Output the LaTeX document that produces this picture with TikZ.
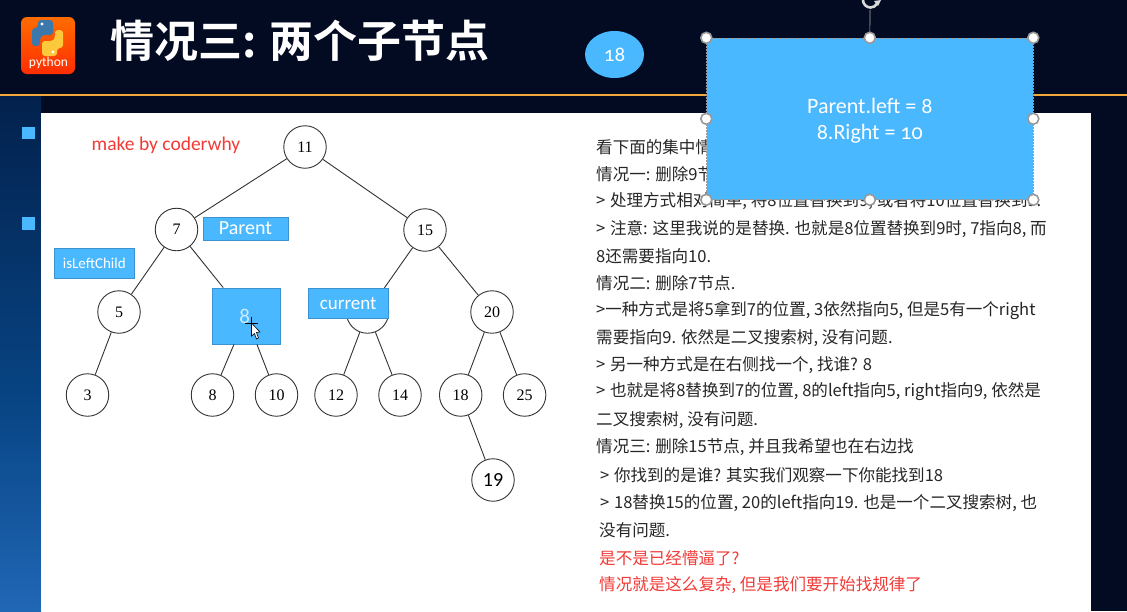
\documentclass[tikz,border=0pt]{standalone}
\usepackage{fontspec}
\setmainfont{Noto Sans CJK SC}
\newfontfamily\titlefont{Noto Sans CJK SC Bold}
\newfontfamily\labelfont[Numbers=OldStyle]{Carlito}
\newfontfamily\plainfont{Carlito}
\newfontfamily\treefont{Liberation Serif}
\usepackage{tikz}
\usetikzlibrary{shapes.geometric}
\definecolor{navy}{HTML}{020B22}
\definecolor{skyblue}{HTML}{4AB8FF}
\definecolor{edgeblue}{HTML}{3D93D0}
\definecolor{redtext}{HTML}{F23A36}
\definecolor{bodytext}{HTML}{262626}
\definecolor{ruleorange}{HTML}{F2A93B}
\definecolor{logoblue}{HTML}{3C78AB}
\definecolor{logoyellow}{HTML}{FCC93C}
\pgfdeclareverticalshading{sidestrip}{100bp}{rgb(0bp)=(0.32,0.62,0.90); rgb(18bp)=(0.16,0.45,0.78); rgb(45bp)=(0.03,0.27,0.52); rgb(75bp)=(0.01,0.13,0.30); rgb(100bp)=(0.01,0.05,0.14)}
\tikzset{tree node/.style={circle, draw=black!80, fill=white, line width=0.9pt, minimum size=42.5pt, inner sep=0pt, font=\treefont\fontsize{16}{16}\selectfont}}
\tikzset{tree edge/.style={draw=black!80, line width=0.9pt}}
\tikzset{tag/.style={fill=skyblue, draw=edgeblue, line width=0.7pt, text=white, inner sep=0pt, font=\labelfont\fontsize{#1}{#1}\selectfont}}
\tikzset{tag/.default=18}
\tikzset{body line/.style={anchor=west, inner sep=0pt, text=bodytext, font=\fontsize{16.55}{16.55}\selectfont}}
\tikzset{handle/.style={circle, draw=black!40, fill=white, line width=1.6pt, minimum size=11pt, inner sep=0pt}}
\newcommand{\snakepath}{(38, 20) -- (53, 20) -- (53, 35) -- (42, 35) -- (40, 38) -- (40, 46) -- (32, 46) -- (32, 28) -- (38, 28) -- cycle}

\begin{document}
\begin{tikzpicture}[x=1pt, y=-1pt]
            \useasboundingbox (0, 0) rectangle (1127, 611);
            % slide background
            \fill[navy] (0, 0) rectangle (1127, 611);
            \shade[shading=sidestrip] (0, 96) rectangle (41, 611);
            \fill[white] (41, 113) rectangle (1090.5, 611);
            \draw[ruleorange, line width=1.2pt] (0, 95) -- (1127, 95);
            \fill[skyblue] (22, 127) rectangle (34.6, 139);
            \fill[skyblue] (22, 217) rectangle (34.6, 230);
            % logo
            \shade[rounded corners=6pt, top color=orange!85!red, bottom color=red!65!orange] (21, 17) rectangle (75, 74);
            \fill[logoblue, rounded corners=3pt] \snakepath;
            \fill[logoyellow, rounded corners=3pt, rotate around={180:(47.5, 38)}] \snakepath;
            \fill[white] (42, 24) circle (1.6);
            \fill[white] (53, 52) circle (1.6);
            \node[text=white, inner sep=0pt, font=\plainfont\fontsize{13.5}{13.5}\selectfont] (logotext) at (48.5, 63) {python};
            \node[anchor=west, inner sep=0pt, text=white, font=\titlefont\fontsize{44}{44}\selectfont] (title) at (110, 41) {情况三: 两个子节点};
            % tree
            \node[tree node] (n11) at (305, 147) {11};
            \node[tree node] (n7) at (176.5, 229.5) {7};
            \node[tree node] (n15) at (425, 230) {15};
            \node[tree node] (n5) at (119, 312) {5};
            \node[tree node] (n13) at (367.5, 312) {};
            \node[tree node] (n20) at (492, 312) {20};
            \node[tree node] (n3) at (87.5, 395) {3};
            \node[tree node] (n8) at (212.5, 395) {8};
            \node[tree node] (n10) at (276.5, 395) {10};
            \node[tree node] (n12) at (336, 395) {12};
            \node[tree node] (n14) at (400, 395) {14};
            \node[tree node] (n18) at (460.7, 395) {18};
            \node[tree node] (n25) at (524.6, 395) {25};
            \node[tree node, font=\plainfont\fontsize{20}{20}\selectfont] (n19) at (493, 480) {19};
            \node[tag=21, minimum width=68pt, minimum height=56pt] (nine) at (246, 316) {};
            \node[inner sep=0pt, text=white!70!skyblue, font=\plainfont\fontsize{21}{21}\selectfont] (ninetext) at (244.6, 316.5) {8};
            \draw[tree edge] (n11) -- (n7);
            \draw[tree edge] (n11) -- (n15);
            \draw[tree edge] (n7) -- (n5);
            \draw[tree edge] (n7) -- (nine);
            \draw[tree edge] (n15) -- (n13);
            \draw[tree edge] (n15) -- (n20);
            \draw[tree edge] (n5) -- (n3);
            \draw[tree edge] (nine) -- (n8);
            \draw[tree edge] (nine) -- (n10);
            \draw[tree edge] (n13) -- (n12);
            \draw[tree edge] (n13) -- (n14);
            \draw[tree edge] (n20) -- (n18);
            \draw[tree edge] (n20) -- (n25);
            \draw[tree edge] (n18) -- (n19);
            % mouse pointer
            \draw[black, line width=0.8pt] (245, 323) -- (258, 323) (251.5, 316.5) -- (251.5, 329.5);
            \draw[black, fill=white, line width=0.6pt] (251.5, 323) -- (251.5, 336) -- (254.5, 333.5) -- (256.5, 339) -- (258.5, 338) -- (256.5, 332.5) -- (260, 332) -- cycle;
            % labels on the tree
            \node[text=redtext, inner sep=0pt, font=\labelfont\fontsize{19.5}{19.5}\selectfont] (credit) at (166, 145) {make by coderwhy};
            \node[tag=20, minimum width=85pt, minimum height=23pt] (parent) at (245.5, 228.5) {Parent};
            \node[tag=15, minimum width=80.5pt, minimum height=30pt] (leftchild) at (94.3, 263) {isLeftChild};
            \node[tag=19, minimum width=80.5pt, minimum height=30.7pt] (current) at (348.2, 303.3) {current};
            % notes on the right
            \node[body line] (l1) at (596, 147) {看下面的集中情况:};
            \node[body line] (l2) at (596, 174) {情况一: 删除9节点.};
            \node[body line] (l3) at (596, 201) {>\hspace{1pt} 处理方式相对简单, 将8位置替换到9, 或者将10位置替换到9.};
            \node[body line] (l4) at (596, 229) {>\hspace{1pt} 注意: 这里我说的是替换. 也就是8位置替换到9时, 7指向8, 而};
            \node[body line] (l5) at (596, 256) {8还需要指向10.};
            \node[body line] (l6) at (596, 283) {情况二: 删除7节点.};
            \node[body line] (l7) at (596, 310) {>一种方式是将5拿到7的位置, 3依然指向5, 但是5有一个right};
            \node[body line] (l8) at (596, 338) {需要指向9. 依然是二叉搜索树, 没有问题.};
            \node[body line] (l9) at (596, 365) {>\hspace{1pt} 另一种方式是在右侧找一个, 找谁? 8};
            \node[body line] (l10) at (596, 392) {>\hspace{1pt} 也就是将8替换到7的位置, 8的left指向5, right指向9, 依然是};
            \node[body line] (l11) at (596, 420) {二叉搜索树, 没有问题.};
            \node[body line] (l12) at (596, 447) {情况三: 删除15节点, 并且我希望也在右边找};
            \node[body line] (l13) at (600, 475) {>\hspace{1pt} 你找到的是谁? 其实我们观察一下你能找到18};
            \node[body line] (l14) at (600, 503) {>\hspace{1pt} 18替换15的位置, 20的left指向19. 也是一个二叉搜索树, 也};
            \node[body line] (l15) at (599, 530) {没有问题.};
            \node[body line, text=redtext] (l16) at (599, 558) {是不是已经懵逼了?};
            \node[body line, text=redtext] (l17) at (599, 585) {情况就是这么复杂, 但是我们要开始找规律了};
            % selected shapes on top
            \node[ellipse, fill=skyblue, text=white, minimum width=59pt, minimum height=47pt, inner sep=0pt, font=\labelfont\fontsize{21}{21}\selectfont] (eighteen) at (614.5, 54.5) {18};
            \node[fill=skyblue, draw=black!40, densely dotted, line width=0.5pt, minimum width=326.5pt, minimum height=161.5pt, inner sep=0pt] (note) at (869.8, 118.8) {};
            \node[inner sep=0pt, text=white, align=center, font=\labelfont\fontsize{22}{26}\selectfont] (notetext) at (869.8, 120.5) {Parent.left = 8\\8.Right = 10};
            \coordinate (turn) at (870, 10);
            \draw[black!30, line width=0.7pt] (note.north) -- (turn);
            \draw[black!15, line width=2.6pt] (863, 0) arc (180:30:7.5);
            \fill[black!15] (874, 1) -- (881, 0) -- (878, 6) -- cycle;
            \node[handle] (h1) at (note.north west) {};
            \node[handle] (h2) at (note.north) {};
            \node[handle] (h3) at (note.north east) {};
            \node[handle] (h4) at (note.west) {};
            \node[handle] (h5) at (note.east) {};
            \node[handle] (h6) at (note.south west) {};
            \node[handle] (h7) at (note.south) {};
            \node[handle] (h8) at (note.south east) {};
        \end{tikzpicture}
\end{document}
